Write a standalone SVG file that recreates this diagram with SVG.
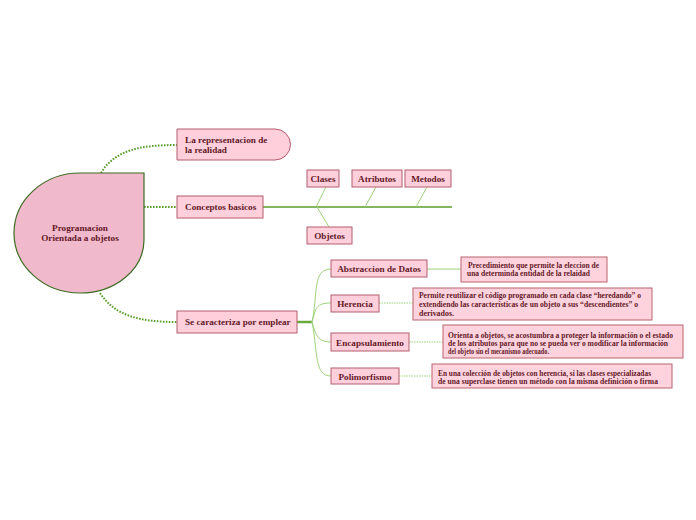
<svg xmlns="http://www.w3.org/2000/svg" width="696" height="520" viewBox="0 0 696 520">
<style>
.bg{fill:#ffffff}
.node{fill:#ffd0dc;stroke:#b35c6c;stroke-width:1}
.desc{fill:#ffd3de;stroke:#b8646f;stroke-width:1}
.t{font-family:"Liberation Serif","Times New Roman",serif;font-weight:bold;font-size:9.2px;fill:#641828}
.d{font-family:"Liberation Serif","Times New Roman",serif;font-weight:bold;font-size:7.3px;fill:#641828}
.dot{fill:none;stroke:#5a9e2a;stroke-width:2;stroke-dasharray:1.6 1.4}
.main{fill:none;stroke:#5a9e2a;stroke-width:1.6}
.thin{fill:none;stroke:#9dd27a;stroke-width:1}
.thindot{fill:none;stroke:#9dd27a;stroke-width:1;stroke-dasharray:1.5 1}
</style>
<rect class="bg" x="0" y="0" width="696" height="520"/>
<g id="connectors">
<path class="dot" d="M101 173 C115 150,140 145,177 145"/>
<path class="dot" d="M144 207 L177 207"/>
<path class="dot" d="M100 293 C115 316,140 322,177 322"/>
<path class="main" d="M263 207 L452 207"/>
<path class="thin" d="M326 187 L316 207"/>
<path class="thin" d="M317 207 L329 227"/>
<path class="thin" d="M376 187 L365 207"/>
<path class="thin" d="M427 187 L416 207"/>
<path fill="none" stroke="#6aaa3a" stroke-width="2.5" d="M297 322 L312 322"/>
<path class="thin" d="M312 322 C318 295,312 269,331 269"/>
<path class="thin" d="M312 322 C316 308,316 303,331 303"/>
<path class="thin" d="M312 322 C316 336,318 342,331 342"/>
<path class="thin" d="M312 322 C318 352,314 376,331 376"/>
<path class="thin" d="M427 269 L461 269"/>
<path class="thindot" d="M379 303 L413 303"/>
<path class="thindot" d="M409 342 L443 342"/>
<path class="thindot" d="M399 376 L432 376"/>
</g>
<g id="central">
<path d="M80 173 L144 173 L144 240 A64 53 0 0 1 80 293 A66 60 0 0 1 14 233 A66 60 0 0 1 80 173 Z" fill="#f0b9cc" stroke="#3f6b22" stroke-width="1.2"/>
<text class="t" x="80" y="231" text-anchor="middle">Programacion</text>
<text class="t" x="80" y="241" text-anchor="middle">Orientada a objetos</text>
</g>
<g id="representacion">
<path class="node" d="M177 129 L275 129 A15.5 15.5 0 0 1 275 160 L177 160 Z"/>
<text class="t" x="185" y="143">La representacion de</text>
<text class="t" x="185" y="153">la realidad</text>
</g>
<g id="conceptos">
<rect class="node" x="177" y="196" width="86" height="22"/>
<text class="t" x="185" y="210">Conceptos basicos</text>
</g>
<g id="clases">
<rect class="node" x="307" y="170" width="32" height="17"/>
<text class="t" x="323" y="182" text-anchor="middle">Clases</text>
</g>
<g id="atributos">
<rect class="node" x="352" y="170" width="50" height="17"/>
<text class="t" x="377" y="182" text-anchor="middle">Atributos</text>
</g>
<g id="metodos">
<rect class="node" x="405" y="170" width="46" height="17"/>
<text class="t" x="428" y="182" text-anchor="middle">Metodos</text>
</g>
<g id="objetos">
<rect class="node" x="307" y="227" width="45" height="17"/>
<text class="t" x="329.5" y="239" text-anchor="middle">Objetos</text>
</g>
<g id="caracteriza">
<rect class="node" x="177" y="311" width="120" height="22"/>
<text class="t" x="185" y="325">Se caracteriza por emplear</text>
</g>
<g id="abstraccion">
<rect class="node" x="331" y="260" width="96" height="17"/>
<text class="t" x="379" y="272" text-anchor="middle">Abstraccion de Datos</text>
</g>
<g id="abstraccion-desc">
<rect class="desc" x="461" y="257" width="146" height="25"/>
<text class="d" x="468" y="267.5" textLength="131" lengthAdjust="spacingAndGlyphs">Precedimiento que permite la eleccion de</text>
<text class="d" x="467" y="275.5" textLength="123" lengthAdjust="spacingAndGlyphs">una determinda entidad de la relaidad</text>
</g>
<g id="herencia">
<rect class="node" x="331" y="295" width="48" height="17"/>
<text class="t" x="355" y="307" text-anchor="middle">Herencia</text>
</g>
<g id="herencia-desc">
<rect class="desc" x="413" y="288" width="239" height="32"/>
<text class="d" x="419" y="298" textLength="222" lengthAdjust="spacingAndGlyphs">Permite reutilizar el código programado en cada clase “heredando” o</text>
<text class="d" x="419" y="306.5" textLength="219" lengthAdjust="spacingAndGlyphs">extendiendo las características de un objeto a sus “descendientes” o</text>
<text class="d" x="419" y="315.5" textLength="35" lengthAdjust="spacingAndGlyphs">derivados.</text>
</g>
<g id="encapsulamiento">
<rect class="node" x="331" y="333" width="78" height="18"/>
<text class="t" x="370" y="345.5" text-anchor="middle">Encapsulamiento</text>
</g>
<g id="encapsulamiento-desc">
<rect class="desc" x="443" y="325" width="240" height="33"/>
<text class="d" x="448" y="337.5" textLength="225" lengthAdjust="spacingAndGlyphs">Orienta a objetos, se acostumbra a proteger la información o el estado</text>
<text class="d" x="448" y="346" textLength="220" lengthAdjust="spacingAndGlyphs">de los atributos para que no se pueda ver o modificar la información</text>
<text class="d" x="448" y="354" textLength="101" lengthAdjust="spacingAndGlyphs">del objeto sin el mecanismo adecuado.</text>
</g>
<g id="polimorfismo">
<rect class="node" x="331" y="368" width="68" height="16"/>
<text class="t" x="365" y="379.5" text-anchor="middle">Polimorfismo</text>
</g>
<g id="polimorfismo-desc">
<rect class="desc" x="432" y="364" width="240" height="24"/>
<text class="d" x="438" y="376" textLength="213" lengthAdjust="spacingAndGlyphs">En una colección de objetos con herencia, si las clases especializadas</text>
<text class="d" x="438" y="384" textLength="220" lengthAdjust="spacingAndGlyphs">de una superclase tienen un método con la misma definición o firma</text>
</g>
</svg>
